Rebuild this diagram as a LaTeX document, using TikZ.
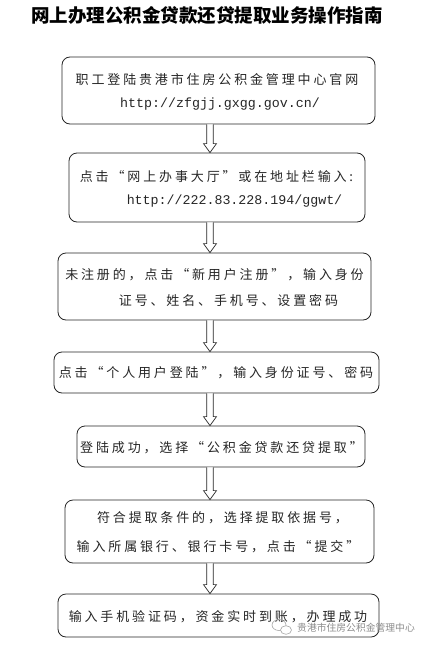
\documentclass[tikz,border=0pt]{standalone}
\usepackage{fontspec}
\newfontfamily\cjk[LetterSpace=22]{Noto Sans CJK SC}
\newfontfamily\cjkt{Noto Sans CJK SC}
\newfontfamily\monof{Liberation Mono}
\usetikzlibrary{calc}
\newcommand\hollowarr[2]{%
  \draw[harr] let \p1=(ax |- #1.south), \p2=(ax |- #2.north) in
    (\x1-3.3pt,\y1) -- (\x1-3.3pt,\y2+9pt) -- (\x1-6.5pt,\y2+9pt)
      -- (\x1,\y2) -- (\x1+6.5pt,\y2+9pt) -- (\x1+3.3pt,\y2+9pt) -- (\x1+3.3pt,\y1);}
\begin{document}
\begin{tikzpicture}[x=1pt,y=-1pt,
  box/.style n args={2}{draw=black!85,line width=0.8pt,rounded corners=8pt,
    minimum width=#1pt,minimum height=#2pt,inner sep=0pt},
  txt/.style={font=\cjk\fontsize{13}{13}\selectfont,text=black!85,inner sep=0pt},
  url/.style={font=\monof\fontsize{13.3}{13.3}\selectfont,text=black!85,inner sep=0pt},
  harr/.style={draw=black!85,line width=0.7pt,fill=white,line join=miter}]
\fill[white] (0,0) rectangle (429,648);
\useasboundingbox (0,0) rectangle (429,648);
\coordinate (ax) at (210,0);
% title
\node[font=\cjkt\bfseries\fontsize{18.5}{18.5}\selectfont,inner sep=0pt] (title) at (207,15) {网上办理公积金贷款还贷提取业务操作指南};
% boxes
\node[box={313}{67}] (b1) at (218.5,90.5) {};
\node[box={296}{69}] (b2) at (217,187.5) {};
\node[box={313}{67}] (b3) at (214.5,286.5) {};
\node[box={325}{41}] (b4) at (216.5,372.5) {};
\node[box={288}{41}] (b5) at (221,446.5) {};
\node[box={309}{63}] (b6) at (219.5,531.5) {};
\node[box={321}{43}] (b7) at (218.5,615.5) {};
% texts
\node[txt] (t1a) at (217,80) {职工登陆贵港市住房公积金管理中心官网};
\node[url] (t1b) at (220,104) {http://zfgjj.gxgg.gov.cn/};
\node[txt] (t2a) at (216.5,177) {点击“网上办事大厅”或在地址栏输入:};
\node[url] (t2b) at (234.5,201) {http://222.83.228.194/ggwt/};
\node[txt] (t3a) at (214.5,275) {未注册的，点击“新用户注册”，输入身份};
\node[txt] (t3b) at (228.5,301) {证号、姓名、手机号、设置密码};
\node[txt] (t4) at (216,373) {点击“个人用户登陆”，输入身份证号、密码};
\node[txt] (t5) at (221.5,448) {登陆成功，选择“公积金贷款还贷提取”};
\node[txt] (t6a) at (222.5,518) {符合提取条件的，选择提取依据号，};
\node[txt] (t6b) at (218,547) {输入所属银行、银行卡号，点击“提交”};
\node[txt] (t7) at (218,617) {输入手机验证码，资金实时到账，办理成功};
% arrows
\hollowarr{b1}{b2}
\hollowarr{b2}{b3}
\hollowarr{b3}{b4}
\hollowarr{b4}{b5}
\hollowarr{b5}{b6}
\hollowarr{b6}{b7}
% watermark
\draw[black!35,line width=0.6pt] (279,625) ellipse (7 and 5.5);
\draw[black!35,line width=0.6pt,fill=white] (286,630) ellipse (5.5 and 4.3);
\node[font=\cjkt\fontsize{9.8}{9.8}\selectfont,text=black!45,inner sep=0pt] (wm) at (356,628) {贵港市住房公积金管理中心};
\end{tikzpicture}
\end{document}
